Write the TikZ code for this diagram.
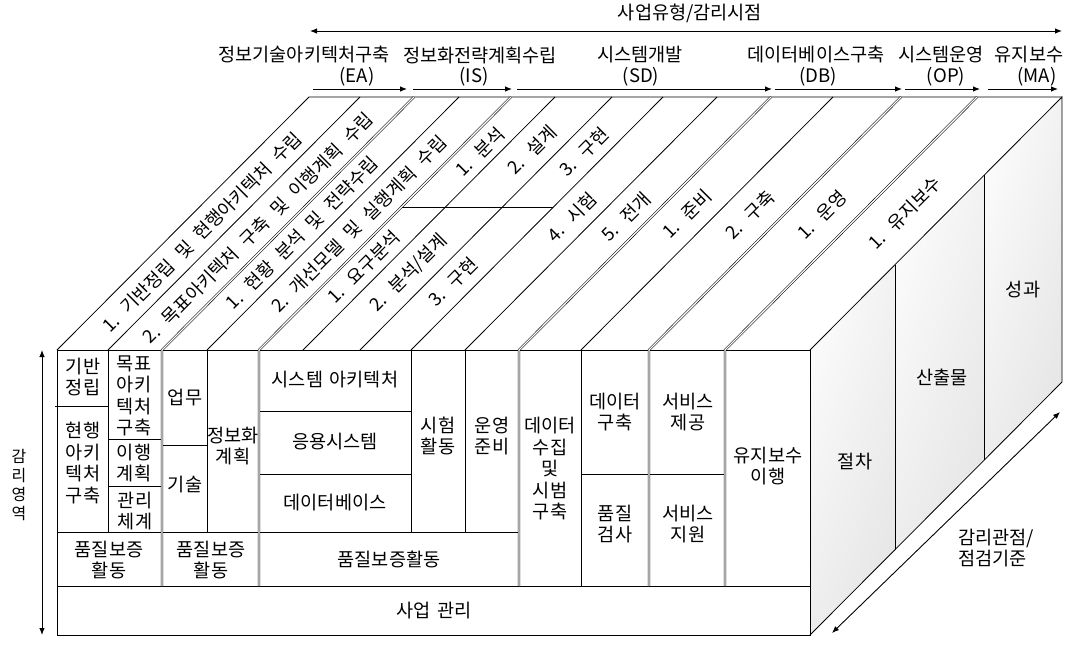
\documentclass[tikz,border=0pt]{standalone}
\usepackage{fontspec}
\setmainfont{Noto Sans CJK KR}[WordSpace=1.6]
\newfontfamily\krtop{Noto Sans CJK KR}[WordSpace=2.4]
\usetikzlibrary{arrows.meta,shadings}
\begin{document}
\begin{tikzpicture}[x=1pt,y=-1pt, line width=0.8pt,
  lbl/.style={font=\fontsize{18.6}{21.5}\selectfont, inner sep=0pt, align=center},
  tlbl/.style={font=\krtop\fontsize{18.2}{20}\selectfont, inner sep=0pt, rotate=45},
  dbl/.style={double, double distance=1.3pt, line width=0.55pt},
  arr/.style={-{Latex[length=7pt,width=5.5pt]}, line width=0.9pt},
  darr/.style={{Latex[length=7pt,width=5.5pt]}-{Latex[length=7pt,width=5.5pt]}, line width=0.9pt},
  face/.style={upper left=white, upper right=gray!10, lower left=gray!14, lower right=gray!22}]
\useasboundingbox (0,0) rectangle (1073,646);

% ---------- right face ----------
\shade[face] (810,350) -- (895,264.7) -- (895,549.7) -- (810,635) -- cycle;
\shade[face] (895,264.7) -- (984,175.3) -- (984,460.3) -- (895,549.7) -- cycle;
\shade[face] (984,175.3) -- (1062,97) -- (1062,382) -- (984,460.3) -- cycle;
\draw (810,350) -- (1062,97) -- (1062,382) -- (810,635);
\draw (895,264.7) -- (895,549.7);
\draw (984,175.3) -- (984,460.3);

% ---------- top face ----------
\draw (57,350) -- (309,97) -- (1062,97);
\foreach \x in {108,207,303,360,411,465,581}
  \draw (\x,350) -- ({\x+252},97);
\draw (402,207) -- (553,207);

% ---------- front face ----------
\draw (57,350) rectangle (810,635);
\draw (57,586) -- (810,586);
\draw (57,532) -- (519,532);
% EA
\draw (108,350) -- (108,532);
\draw (55,406) -- (108,406);
\draw (108,439) -- (162,439);
\draw (108,486) -- (162,486);
% IS
\draw (207,350) -- (207,532);
\draw (162,445) -- (207,445);
% SD
\draw (259,411) -- (411,411);
\draw (259,474) -- (411,474);
\draw (411,350) -- (411,532);
\draw (465,350) -- (465,532);
% DB / OP
\draw (581,350) -- (581,586);
\draw (581,474) -- (725,474);

% double separators (front + top)
\foreach \x in {162,259,519,649,725}
  \draw[dbl] (\x,586) -- (\x,350) -- ({\x+252},97);

% ---------- front labels ----------
\node[lbl] (n1) at (83,377) {기반\\정립};
\node[lbl] (n2) at (83,463) {현행\\아키\\텍처\\구축};
\node[lbl] (n3) at (134,396) {목표\\아키\\텍처\\구축};
\node[lbl] (n4) at (134,463) {이행\\계획};
\node[lbl] (n5) at (135,511) {관리\\체계};
\node[lbl] (n6) at (185,398) {업무};
\node[lbl] (n7) at (185,485) {기술};
\node[lbl] (n8) at (233,446) {정보화\\계획};
\node[lbl] (n9) at (109,560) {품질보증\\활동};
\node[lbl] (n10) at (211,560) {품질보증\\활동};
\node[lbl] (n11) at (335,380) {시스템 아키텍처};
\node[lbl] (n12) at (335,442) {응용시스템};
\node[lbl] (n13) at (335,503) {데이터베이스};
\node[lbl] (n14) at (438,436) {시험\\활동};
\node[lbl] (n15) at (492,436) {운영\\준비};
\node[lbl] (n16) at (389,559) {품질보증활동};
\node[lbl] (n17) at (434,611) {사업 관리};
\node[lbl] (n18) at (550,469) {데이터\\수집\\및\\시범\\구축};
\node[lbl] (n19) at (615,412) {데이터\\구축};
\node[lbl] (n20) at (615,524) {품질\\검사};
\node[lbl] (n21) at (688,412) {서비스\\제공};
\node[lbl] (n22) at (688,524) {서비스\\지원};
\node[lbl] (n23) at (768,466) {유지보수\\이행};

% ---------- right face labels ----------
\node[lbl] (r1) at (855,462) {절차};
\node[lbl] (r2) at (942,377) {산출물};
\node[lbl] (r3) at (1023,290) {성과};

% ---------- top labels ----------
\node[tlbl] (t1) at (202,232) {1. 기반정립 및 현행아키텍처 수립};
\node[tlbl] (t2) at (258,228) {2. 목표아키텍처 구축 및 이행계획 수립};
\node[tlbl] (t3) at (302,233) {1. 현황 분석 및 전략수립};
\node[tlbl] (t4) at (359,224) {2. 개선모델 및 실행계획 수립};
\node[tlbl] (t5) at (364,267) {1. 요구분석};
\node[tlbl] (t6) at (409,273) {2. 분석/설계};
\node[tlbl] (t7) at (453,282) {3. 구현};
\node[tlbl] (t8) at (480,152) {1. 분석};
\node[tlbl] (t9) at (532,150) {2. 설계};
\node[tlbl] (t10) at (584,152) {3. 구현};
\node[tlbl] (t11) at (572,217) {4. 시험};
\node[tlbl] (t12) at (626,217) {5. 전개};
\node[tlbl] (t13) at (687,214) {1. 준비};
\node[tlbl] (t14) at (750,215) {2. 구축};
\node[tlbl] (t15) at (822,215) {1. 운영};
\node[tlbl] (t16) at (905,213) {1. 유지보수};

% ---------- header ----------
\node[lbl] (hd) at (690,13) {사업유형/감리시점};
\coordinate (ha) at (310,31);
\coordinate (hb) at (1062,31);
\draw[darr] (ha) -- (hb);

\node[lbl] (p1) at (304,55) {정보기술아키텍처구축};
\node[lbl] (c1) at (357,77) {(EA)};
\node[lbl] (p2) at (480,55) {정보화전략계획수립};
\node[lbl] (c2) at (474,77) {(IS)};
\node[lbl] (p3) at (640,55) {시스템개발};
\node[lbl] (c3) at (641,77) {(SD)};
\node[lbl] (p4) at (816,55) {데이터베이스구축};
\node[lbl] (c4) at (818,77) {(DB)};
\node[lbl] (p5) at (941,55) {시스템운영};
\node[lbl] (c5) at (946,77) {(OP)};
\node[lbl] (p6) at (1029,55) {유지보수};
\node[lbl] (c6) at (1037,77) {(MA)};

\coordinate (a1s) at (313,89); \coordinate (a1e) at (407,89);
\coordinate (a2s) at (413,89); \coordinate (a2e) at (512,89);
\coordinate (a3s) at (517,89); \coordinate (a3e) at (772,89);
\coordinate (a4s) at (775,89); \coordinate (a4e) at (902,89);
\coordinate (a5s) at (905,89); \coordinate (a5e) at (980,89);
\coordinate (a6s) at (988,89); \coordinate (a6e) at (1058,89);
\foreach \i in {1,...,6} \draw[arr] (a\i s) -- (a\i e);

% ---------- left axis ----------
\coordinate (la) at (42,350);
\coordinate (lb) at (42,635);
\draw[darr] (la) -- (lb);
\node[lbl, font=\fontsize{16}{19}\selectfont] (ll) at (19,485) {감\\리\\영\\역};

% ---------- bottom-right axis ----------
\coordinate (ba) at (832,633);
\coordinate (bb) at (1060,412);
\draw[darr] (ba) -- (bb);
\node[lbl, align=left] (bl) at (996,548) {감리관점/\\점검기준};
\end{tikzpicture}
\end{document}
